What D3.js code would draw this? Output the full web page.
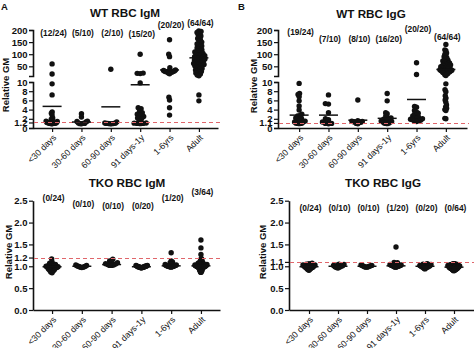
<!DOCTYPE html>
<html>
<head>
<meta charset="utf-8">
<script src="https://cdn.jsdelivr.net/npm/d3@7"></script>
<style>
  body { margin: 0; background: #fff; }
  text { font-family: "Liberation Sans", Arial, Helvetica, sans-serif; fill: #111; }
</style>
</head>
<body>
<svg id="chart" width="474" height="348"></svg>
<script>
const categories = ["<30 days", "30-60 days", "60-90 days", "91 days-1y", "1-6yrs", "Adult"];

// WT RBC IgM, relative GM per subject
const wtIgM = [
    [60, 18, 9.6, 7.2, 3.5, 3.2, 2.8, 2.2, 1.9, 1.7, 1.5, 1.4, 1.2, 1.2, 1.15, 1.1, 1.1, 1.05, 1.05, 1.0, 1.0, 1.0, 0.95, 0.9],
    [3.1, 2.4, 1.5, 1.4, 1.3, 1.1, 1.0, 1.0, 0.95, 0.9],
    [38, 1.3, 1.1, 1.05, 1.0, 1.0, 1.0, 0.95, 0.95, 0.9],
    [100, 22, 21, 20, 9.8, 4.4, 4.2, 3.6, 3.3, 3.0, 2.8, 2.5, 2.2, 2.0, 1.6, 1.1, 1.05, 1.0, 1.0, 0.95],
    [160, 100, 90, 44, 35, 33, 32, 31, 30, 29, 28, 27, 26, 24, 22, 19, 6.7, 6.1, 4.4, 2.8],
    [196, 194, 190, 185, 180, 175, 170, 165, 160, 155, 150, 146, 142, 138, 134, 130, 126, 122, 118, 115,
     112, 109, 106, 103, 100, 98, 96, 94, 92, 90, 88, 86, 84, 82, 80, 78, 76, 74, 72, 70,
     68, 66, 64, 62, 60, 58, 56, 54, 52, 50, 47, 44, 41, 38, 35, 32, 29, 26, 22, 18,
     14, 11, 7.2, 5.9]
];
const wtIgMMeans = [4.7, 1.3, 4.6, 9.4, 35, 85];
const wtIgMCounts = ["(12/24)", "(5/10)", "(2/10)", "(15/20)", "(20/20)", "(64/64)"];
const wtIgMCountAt = [177, 177, 177, 173, 208, 216];

// WT RBC IgG
const wtIgG = [
    [9.7, 7.5, 7.3, 6.8, 5.9, 4.8, 3.9, 3.0, 2.8, 2.6, 2.4, 2.2, 2.0, 1.9, 1.8, 1.6, 1.5, 1.4, 1.3, 1.1, 1.05, 1.0, 1.0, 0.95],
    [7.2, 5.3, 5.2, 3.3, 2.0, 1.8, 1.3, 1.0, 1.0, 0.9],
    [6.1, 1.6, 1.5, 1.4, 1.35, 1.3, 1.25, 1.2, 1.0, 0.9],
    [7.5, 5.9, 3.3, 3.1, 2.6, 2.3, 2.2, 2.0, 1.9, 1.8, 1.7, 1.6, 1.5, 1.4, 1.35, 1.3, 1.1, 1.05, 1.0, 0.95],
    [65, 16, 4.7, 4.5, 3.8, 3.5, 3.2, 3.0, 2.8, 2.6, 2.4, 2.2, 2.1, 2.0, 1.9, 1.8, 1.7, 1.6, 1.5, 1.4],
    [140, 118, 115, 105, 100, 95, 90, 85, 82, 78, 75, 72, 70, 68, 66, 64, 62, 60, 58, 56,
     55, 54, 52, 50, 48, 47, 46, 45, 44, 42, 41, 40, 38, 36, 35, 34, 33, 32, 31, 30,
     29, 28, 27, 26, 24, 22, 20, 18, 15, 12, 9.6, 8.3, 7.9, 7.0, 6.5, 6.1, 5.6, 5.0, 4.6, 4.3,
     4.0, 3.8, 2.1, 2.0]
];
const wtIgGMeans = [2.8, 2.8, 1.7, 2.1, 6.2, 37];
const wtIgGCounts = ["(19/24)", "(7/10)", "(8/10)", "(16/20)", "(20/20)", "(64/64)"];
const wtIgGCountAt = [179, 152, 152, 152, 193, 158];

// TKO RBC IgM
const tkoIgM = [
    [1.17, 1.10, 1.07, 1.05, 1.04, 1.03, 1.02, 1.01, 1.00, 1.00, 0.99, 0.99, 0.98, 0.97, 0.97, 0.96, 0.95, 0.94, 0.93, 0.92, 0.91, 0.89, 0.87, 0.85],
    [1.03, 1.02, 1.01, 1.00, 1.00, 0.99, 0.99, 0.98, 0.98, 0.97],
    [1.16, 1.12, 1.10, 1.08, 1.06, 1.05, 1.04, 1.03, 1.02, 1.02],
    [1.02, 1.02, 1.01, 1.01, 1.00, 1.00, 1.00, 1.00, 0.99, 0.99, 0.99, 0.99, 0.98, 0.98, 0.98, 0.98, 0.97, 0.97, 0.97, 0.96],
    [1.31, 1.12, 1.10, 1.08, 1.06, 1.05, 1.04, 1.03, 1.02, 1.02, 1.01, 1.01, 1.00, 1.00, 1.00, 1.00, 0.99, 0.99, 0.99, 0.98],
    [1.60, 1.42, 1.27, 1.18, 1.16, 1.14, 1.12, 1.11, 1.10, 1.09, 1.08, 1.08, 1.07, 1.07, 1.06, 1.06, 1.05, 1.05, 1.05, 1.04,
     1.04, 1.04, 1.03, 1.03, 1.03, 1.03, 1.02, 1.02, 1.02, 1.02, 1.01, 1.01, 1.01, 1.01, 1.00, 1.00, 1.00, 1.00, 1.00, 1.00,
     0.99, 0.99, 0.99, 0.99, 0.98, 0.98, 0.98, 0.98, 0.97, 0.97, 0.97, 0.96, 0.96, 0.95, 0.95, 0.94, 0.93, 0.92, 0.91, 0.90,
     0.89, 0.88, 0.87, 0.86]
];
const tkoIgMMeans = [0.99, 1.0, 1.04, 0.99, 1.01, 1.01];
const tkoIgMCounts = ["(0/24)", "(0/10)", "(0/10)", "(0/20)", "(1/20)", "(3/64)"];
const tkoIgMCountAt = [2.5, 2.35, 2.32, 2.32, 2.5, 2.64];

// TKO RBC IgG
const tkoIgG = [
    [1.07, 1.06, 1.05, 1.04, 1.03, 1.03, 1.02, 1.02, 1.01, 1.01, 1.00, 1.00, 0.99, 0.99, 0.98, 0.98, 0.97, 0.97, 0.96, 0.95, 0.94, 0.93, 0.92, 0.91],
    [1.05, 1.04, 1.03, 1.02, 1.01, 1.00, 0.99, 0.98, 0.97, 0.96],
    [1.03, 1.02, 1.02, 1.01, 1.00, 1.00, 0.99, 0.99, 0.98, 0.98],
    [1.44, 1.09, 1.08, 1.07, 1.06, 1.05, 1.04, 1.03, 1.03, 1.02, 1.02, 1.01, 1.01, 1.00, 1.00, 1.00, 0.99, 0.99, 0.98, 0.98],
    [1.06, 1.05, 1.05, 1.04, 1.03, 1.03, 1.02, 1.02, 1.01, 1.01, 1.00, 1.00, 0.99, 0.99, 0.98, 0.98, 0.97, 0.96, 0.95, 0.94],
    [1.06, 1.06, 1.05, 1.05, 1.05, 1.04, 1.04, 1.04, 1.03, 1.03, 1.03, 1.03, 1.02, 1.02, 1.02, 1.02, 1.02, 1.01, 1.01, 1.01,
     1.01, 1.01, 1.00, 1.00, 1.00, 1.00, 1.00, 1.00, 0.99, 0.99, 0.99, 0.99, 0.99, 0.98, 0.98, 0.98, 0.98, 0.98, 0.97, 0.97,
     0.97, 0.97, 0.96, 0.96, 0.96, 0.96, 0.95, 0.95, 0.95, 0.95, 0.94, 0.94, 0.94, 0.93, 0.93, 0.93, 0.92, 0.92, 0.92, 0.91,
     0.91, 0.91, 0.90, 0.90]
];
const tkoIgGMeans = [0.99, 1.0, 1.0, 1.01, 1.0, 0.98];
const tkoIgGCounts = ["(0/24)", "(0/10)", "(0/10)", "(1/20)", "(0/20)", "(0/64)"];
const tkoIgGCountAt = [2.27, 2.27, 2.27, 2.27, 2.27, 2.27];

const svg = d3.select("#chart");
const R = 2.7;          // dot radius
const SPACING = 3.2;    // swarm collision distance
const MAX_HALF = 6;     // widest swarm offset from the category centre

// panel layout
const panels = [
    { letter: "A", lx: 1, ly: 10, title: "WT RBC IgM", tx: 125, ty: 17, ylx: 8.5, yly: 85,
      x0: 33, x1: 218, pad: 0.65, split: true, top: 30, breakHi: 76, breakLo: 82, base: 128,
      lowTicks: [0, 1.2, 2, 4, 6, 8, 10], cut: 1.2,
      data: wtIgM, means: wtIgMMeans, counts: wtIgMCounts, countAt: wtIgMCountAt },
    { letter: "B", lx: 238, ly: 10, title: "WT RBC IgG", tx: 371, ty: 18, ylx: 257, yly: 86,
      x0: 278, x1: 467, pad: 0.72, split: true, top: 30, breakHi: 76, breakLo: 82, base: 128,
      lowTicks: [0, 1.1, 2, 4, 6, 8, 10], cut: 1.1,
      data: wtIgG, means: wtIgGMeans, counts: wtIgGCounts, countAt: wtIgGCountAt },
    { title: "TKO RBC IgM", tx: 127, ty: 187, ylx: 11.5, yly: 252,
      x0: 33, x1: 220, pad: 0.64, split: false, top: 200.7, base: 310,
      ticks: [0, 0.5, 1, 1.2, 1.5, 2, 2.5], cut: 1.2,
      data: tkoIgM, means: tkoIgMMeans, counts: tkoIgMCounts, countAt: tkoIgMCountAt },
    { title: "TKO RBC IgG", tx: 383, ty: 187, ylx: 266, yly: 252,
      x0: 289, x1: 474, pad: 0.69, split: false, top: 200.7, base: 310,
      ticks: [0, 0.5, 1, 1.1, 1.5, 2, 2.5], cut: 1.1,
      data: tkoIgG, means: tkoIgGMeans, counts: tkoIgGCounts, countAt: tkoIgGCountAt }
];

// place points of one column so they don't pile up: lowest first, nearest free slot to the centre
function swarm(ys) {
    const pts = ys.map(y => ({ y: y, x: 0 }));
    const order = pts.slice().sort((a, b) => b.y - a.y);
    const placed = [];
    for (const p of order) {
        const cands = [0];
        for (const q of placed) {
            const dy = Math.abs(q.y - p.y);
            if (dy < SPACING) {
                const off = Math.sqrt(SPACING * SPACING - dy * dy);
                cands.push(q.x + off, q.x - off);
            }
        }
        cands.sort((a, b) => Math.abs(a) - Math.abs(b) || a - b);
        for (const c of cands) {
            if (placed.every(q => (q.x - c) ** 2 + (q.y - p.y) ** 2 >= SPACING * SPACING - 1e-6)) {
                p.x = c;
                break;
            }
        }
        placed.push(p);
    }
    const m = d3.max(placed, q => Math.abs(q.x));
    if (m > MAX_HALF) placed.forEach(q => { q.x *= MAX_HALF / m; });
    return pts;
}

function styleAxis(g) {
    g.select(".domain").attr("stroke", "#111").attr("stroke-width", 1.6);
    g.selectAll(".tick line").attr("stroke", "#111").attr("stroke-width", 1.2);
    g.selectAll(".tick text").attr("font-size", 9.5).attr("font-weight", "bold").attr("fill", "#111");
}

for (const p of panels) {
    const g = svg.append("g");

    const x = d3.scalePoint().domain(categories).range([p.x0, p.x1]).padding(p.pad);

    let y;
    if (p.split) {
        const upper = d3.scaleLinear().domain([10, 200]).range([p.breakHi, p.top]);
        const lower = d3.scaleLinear().domain([0, 10]).range([p.base, p.breakLo]);
        y = v => v > 10 ? upper(v) : lower(v);

        g.append("g").attr("transform", `translate(${p.x0},0)`)
            .call(d3.axisLeft(upper).tickValues([50, 100, 150, 200]).tickSize(4).tickPadding(1.5).tickFormat(d3.format("d")))
            .call(styleAxis);
        g.append("g").attr("transform", `translate(${p.x0},0)`)
            .call(d3.axisLeft(lower).tickValues(p.lowTicks).tickSize(4).tickPadding(1.5).tickFormat(d => String(d)))
            .call(styleAxis);
    } else {
        const lin = d3.scaleLinear().domain([0, 2.5]).range([p.base, p.top]);
        y = lin;
        g.append("g").attr("transform", `translate(${p.x0},0)`)
            .call(d3.axisLeft(lin).tickValues(p.ticks).tickSize(4).tickPadding(1.5).tickFormat(d3.format(".1f")).tickSizeOuter(0))
            .call(styleAxis);
    }

    // category axis
    const xa = g.append("g").attr("transform", `translate(0,${p.base})`)
        .call(d3.axisBottom(x).tickSize(4).tickSizeOuter(0))
        .call(styleAxis);
    xa.selectAll(".tick text")
        .attr("font-weight", "normal")
        .attr("font-size", 8.8)
        .attr("text-anchor", "end")
        .attr("x", 0).attr("y", 0).attr("dy", "0.35em")
        .attr("transform", "translate(2,8) rotate(-45)");

    // dots
    p.data.forEach((vals, i) => {
        const cx = x(categories[i]);
        const pts = swarm(vals.map(v => y(v)));
        g.append("g").selectAll("circle")
            .data(pts)
            .enter()
            .append("circle")
            .attr("cx", d => cx + d.x)
            .attr("cy", d => d.y)
            .attr("r", R)
            .attr("fill", "#111");
    });

    // cut-off line, drawn over the dots and snapped to the pixel grid
    const cy = Math.round(y(p.cut)) + 0.5;
    g.append("line")
        .attr("x1", p.x0 + 1).attr("x2", p.x1 + 2)
        .attr("y1", cy).attr("y2", cy)
        .attr("stroke", "#e0666b").attr("stroke-width", 1)
        .attr("stroke-dasharray", "4,3");

    // mean bars
    g.append("g").selectAll("line")
        .data(p.means)
        .enter()
        .append("line")
        .attr("x1", (d, i) => x(categories[i]) - 9.5)
        .attr("x2", (d, i) => x(categories[i]) + 9.5)
        .attr("y1", d => y(d))
        .attr("y2", d => y(d))
        .attr("stroke", "#111")
        .attr("stroke-width", 1.5);

    // positive / total labels
    g.append("g").selectAll("text")
        .data(p.counts)
        .enter()
        .append("text")
        .attr("x", (d, i) => x(categories[i]) + 1.5)
        .attr("y", (d, i) => y(p.countAt[i]))
        .attr("text-anchor", "middle")
        .attr("font-size", 8.4)
        .attr("font-weight", "bold")
        .text(d => d);

    g.append("text")
        .attr("x", p.tx).attr("y", p.ty)
        .attr("text-anchor", "middle")
        .attr("font-size", 11.7)
        .attr("font-weight", "bold")
        .text(p.title);

    g.append("text")
        .attr("transform", `translate(${p.ylx},${p.yly}) rotate(-90)`)
        .attr("text-anchor", "middle")
        .attr("font-size", 9.5)
        .attr("font-weight", "bold")
        .text("Relative GM");

    if (p.letter) {
        g.append("text")
            .attr("x", p.lx).attr("y", p.ly)
            .attr("font-size", 9.5)
            .attr("font-weight", "bold")
            .text(p.letter);
    }
}
</script>
</body>
</html>
